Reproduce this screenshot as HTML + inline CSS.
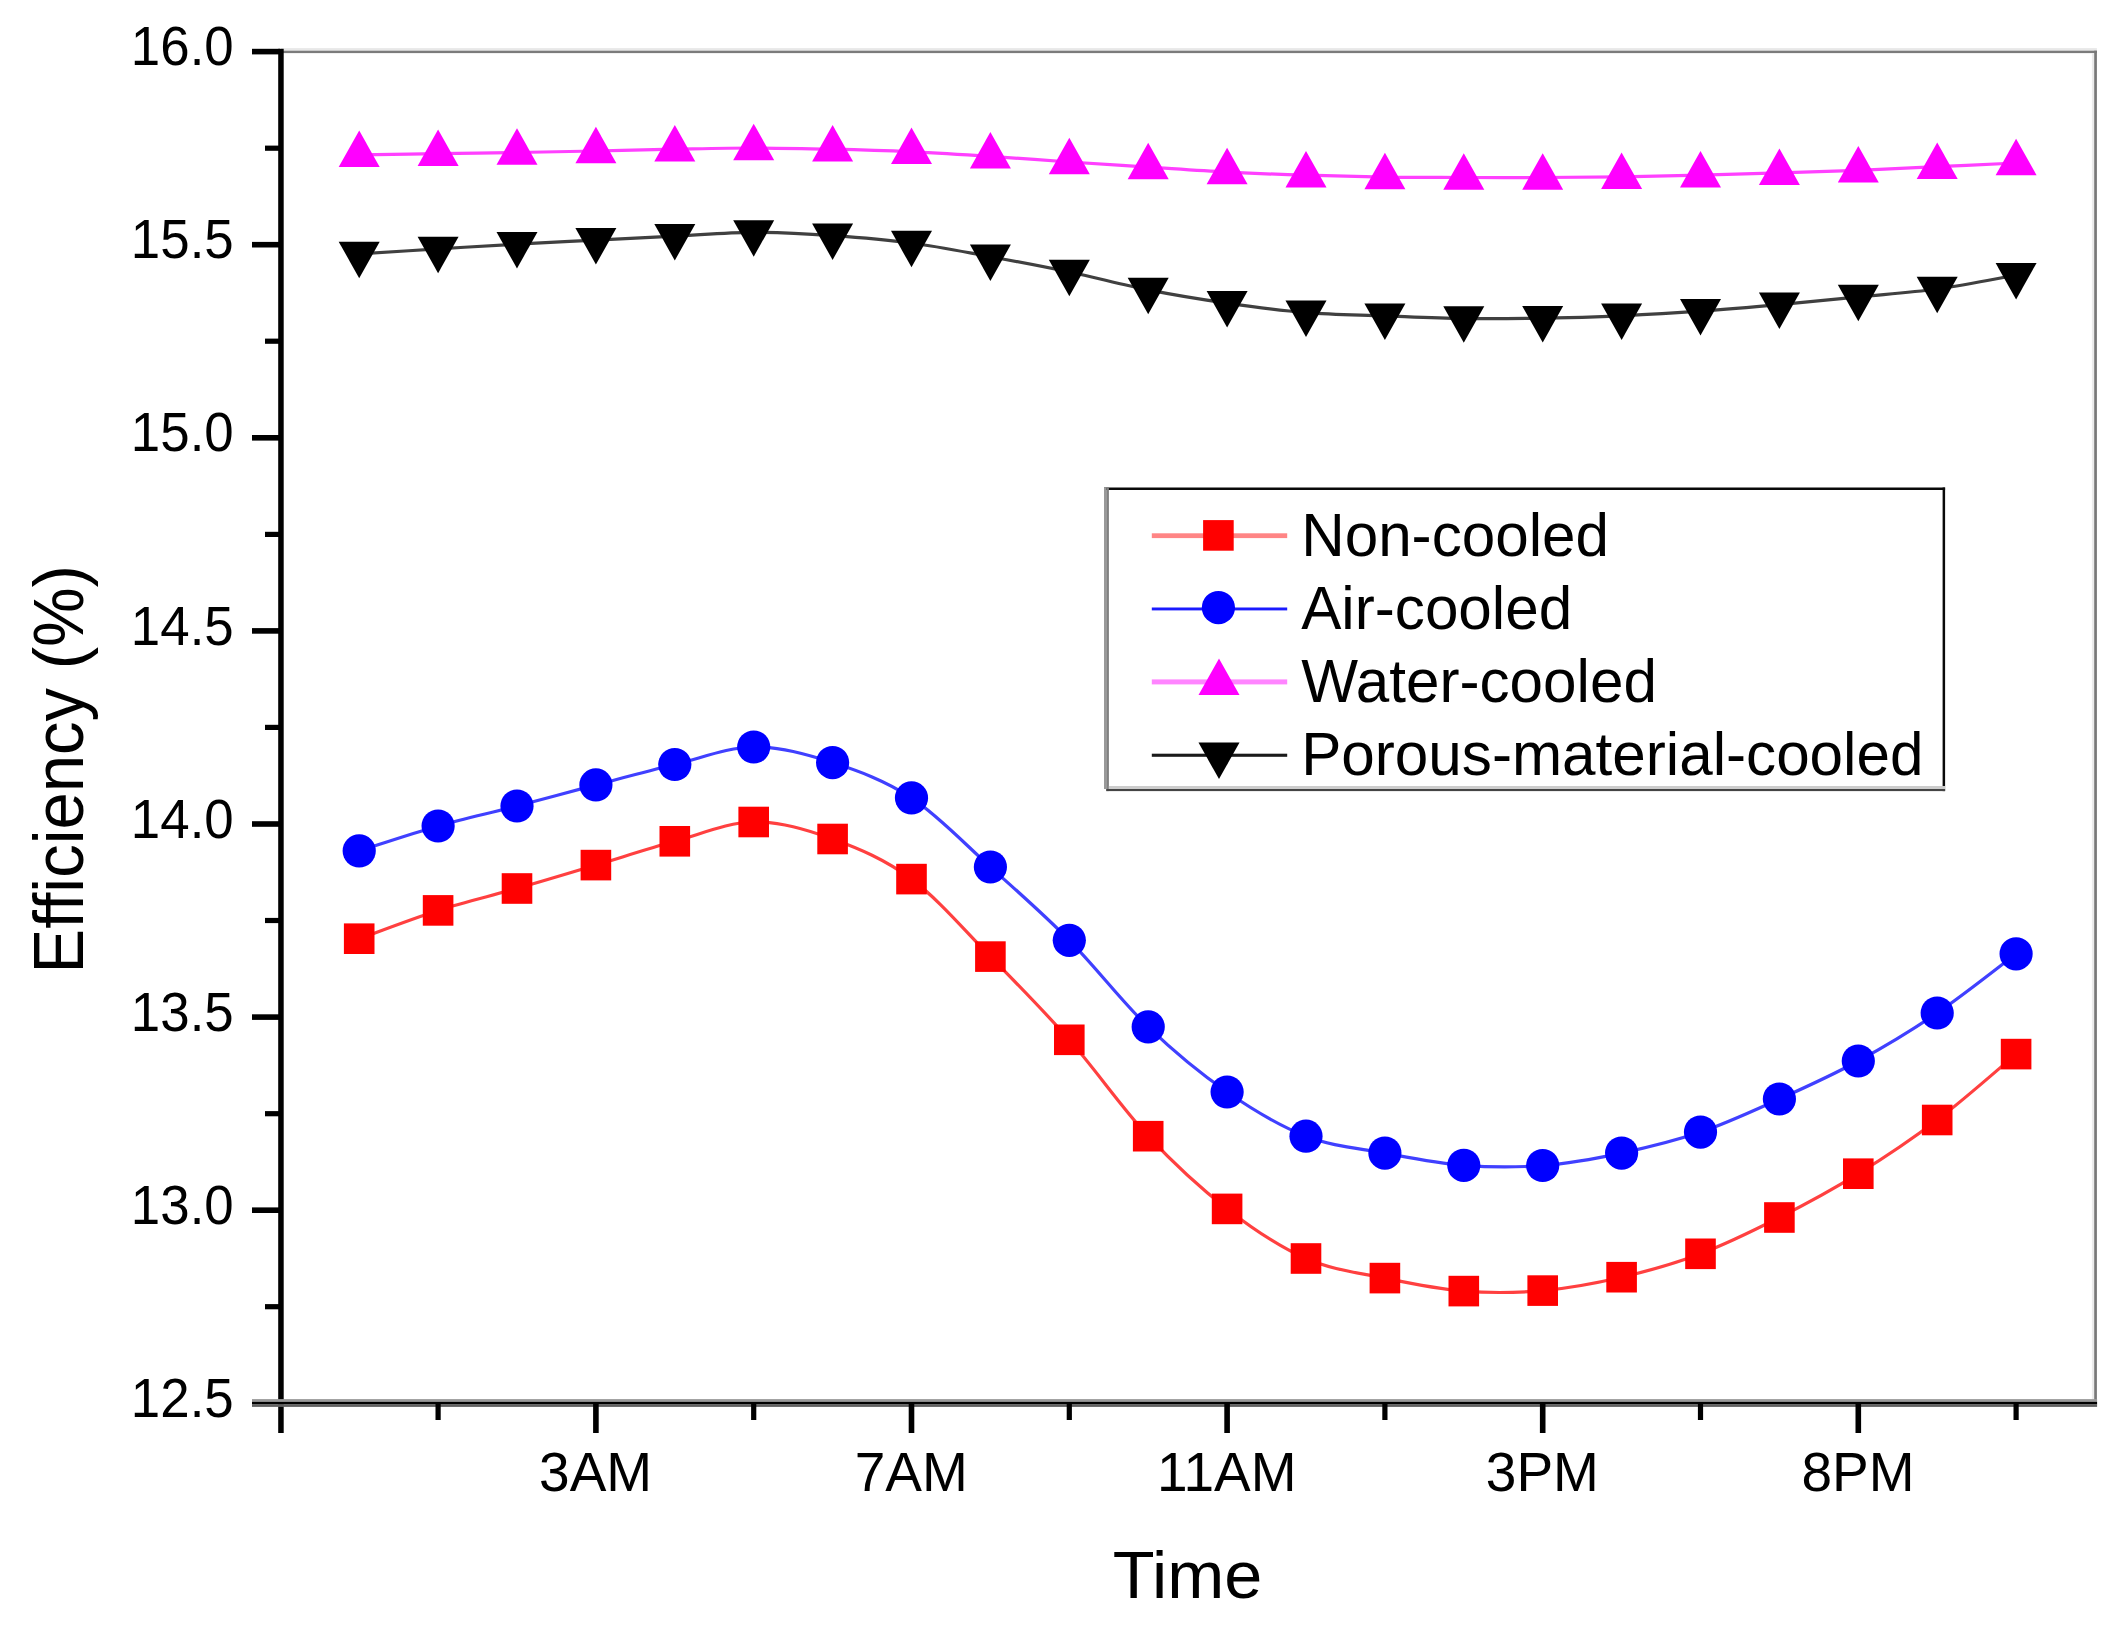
<!DOCTYPE html>
<html lang="en"><head><meta charset="utf-8"><title>Efficiency vs Time</title>
<style>html,body{margin:0;padding:0;background:#fff}body{width:2120px;height:1626px;overflow:hidden}svg{display:block}text{font-family:"Liberation Sans",Arial,sans-serif;fill:#000}.tk{font-size:56px}.lg{font-size:60.2px}.tt{font-size:67px}</style></head><body>
<svg width="2120" height="1626" viewBox="0 0 2120 1626">
<rect width="2120" height="1626" fill="#fff"/>
<rect x="281" y="48.1" width="1815.9" height="2.7" fill="#e8e8e8"/><rect x="281" y="50.7" width="1815.9" height="2.4" fill="#7b7b7b"/>
<rect x="2091.9" y="53.1" width="2.4" height="1350" fill="#ebebeb"/><rect x="2094.2" y="50.7" width="2.7" height="1353" fill="#787878"/>
<g fill="#000">
<rect x="278.2" y="48.8" width="5.5" height="1384.2"/>
<rect x="252" y="1399.1" width="1845.1" height="2.9" fill="#999"/><rect x="252" y="1401.9" width="1845.1" height="2.3"/><rect x="252" y="1404.1" width="1845.1" height="2.8" fill="#606060"/>
<rect x="252" y="48.8" width="28" height="5.6"/>
<rect x="265" y="145.6" width="15" height="5.2"/>
<rect x="252" y="241.9" width="28" height="5.6"/>
<rect x="265" y="338.6" width="15" height="5.2"/>
<rect x="252" y="435.0" width="28" height="5.6"/>
<rect x="265" y="531.8" width="15" height="5.2"/>
<rect x="252" y="628.1" width="28" height="5.6"/>
<rect x="265" y="724.8" width="15" height="5.2"/>
<rect x="252" y="821.2" width="28" height="5.6"/>
<rect x="265" y="917.9" width="15" height="5.2"/>
<rect x="252" y="1014.3" width="28" height="5.6"/>
<rect x="265" y="1111.1" width="15" height="5.2"/>
<rect x="252" y="1207.4" width="28" height="5.6"/>
<rect x="265" y="1304.1" width="15" height="5.2"/>
<rect x="435.5" y="1403" width="5.2" height="17"/>
<rect x="593.1" y="1403" width="5.6" height="30"/>
<rect x="751.1" y="1403" width="5.2" height="17"/>
<rect x="908.7" y="1403" width="5.6" height="30"/>
<rect x="1066.7" y="1403" width="5.2" height="17"/>
<rect x="1224.3" y="1403" width="5.6" height="30"/>
<rect x="1382.3" y="1403" width="5.2" height="17"/>
<rect x="1539.9" y="1403" width="5.6" height="30"/>
<rect x="1697.9" y="1403" width="5.2" height="17"/>
<rect x="1855.5" y="1403" width="5.6" height="30"/>
<rect x="2013.5" y="1403" width="5.2" height="17"/>
</g>
<text class="tk" transform="translate(233.7 65.2) scale(0.9436 1)" text-anchor="end">16.0</text>
<text class="tk" transform="translate(233.7 258.3) scale(0.9436 1)" text-anchor="end">15.5</text>
<text class="tk" transform="translate(233.7 451.4) scale(0.9436 1)" text-anchor="end">15.0</text>
<text class="tk" transform="translate(233.7 644.5) scale(0.9436 1)" text-anchor="end">14.5</text>
<text class="tk" transform="translate(233.7 837.6) scale(0.9436 1)" text-anchor="end">14.0</text>
<text class="tk" transform="translate(233.7 1030.7) scale(0.9436 1)" text-anchor="end">13.5</text>
<text class="tk" transform="translate(233.7 1223.8) scale(0.9436 1)" text-anchor="end">13.0</text>
<text class="tk" transform="translate(233.7 1416.9) scale(0.9436 1)" text-anchor="end">12.5</text>
<text class="tk" transform="translate(595.6 1491.0) scale(0.982 1)" text-anchor="middle">3AM</text>
<text class="tk" transform="translate(911.2 1491.0) scale(0.982 1)" text-anchor="middle">7AM</text>
<text class="tk" transform="translate(1226.8 1491.0) scale(0.982 1)" text-anchor="middle">11AM</text>
<text class="tk" transform="translate(1542.4 1491.0) scale(0.982 1)" text-anchor="middle">3PM</text>
<text class="tk" transform="translate(1858.0 1491.0) scale(0.982 1)" text-anchor="middle">8PM</text>
<text class="tt" transform="translate(1187.6 1598.3) scale(1.022 1)" text-anchor="middle">Time</text>
<text class="tt" style="font-size:69.5px" transform="translate(83.4 769.3) rotate(-90) scale(0.964 1)" text-anchor="middle">Efficiency (%)</text>
<path d="M359.2 938.7 C372.4 934.0 411.8 918.8 438.1 910.4 C464.4 902.0 490.7 896.0 517.0 888.5 C543.3 881.0 569.6 873.0 595.9 865.1 C622.2 857.2 648.5 848.5 674.8 841.3 C701.1 834.1 727.4 822.4 753.7 822.0 C780.0 821.6 806.3 829.5 832.6 839.0 C858.9 848.5 885.2 859.5 911.5 879.1 C937.8 898.7 964.1 929.8 990.4 956.6 C1016.7 983.4 1043.0 1009.9 1069.3 1039.8 C1095.6 1069.7 1121.9 1108.0 1148.2 1136.2 C1174.5 1164.4 1200.8 1188.5 1227.1 1208.9 C1253.4 1229.3 1279.7 1247.0 1306.0 1258.5 C1332.3 1270.0 1358.6 1272.7 1384.9 1278.1 C1411.2 1283.5 1437.5 1289.0 1463.8 1291.1 C1490.1 1293.2 1516.4 1292.9 1542.7 1290.6 C1569.0 1288.3 1595.3 1283.3 1621.6 1277.2 C1647.9 1271.1 1674.2 1263.8 1700.5 1253.8 C1726.8 1243.8 1753.1 1230.8 1779.4 1217.5 C1805.7 1204.2 1832.0 1190.0 1858.3 1173.7 C1884.6 1157.5 1910.9 1139.9 1937.2 1120.0 C1963.5 1100.1 2003.0 1065.1 2016.1 1054.1" fill="none" stroke="#ff4040" stroke-width="3.2"/>
<g fill="#ff0000"><rect x="343.9" y="923.4" width="30.6" height="30.6"/><rect x="422.8" y="895.1" width="30.6" height="30.6"/><rect x="501.7" y="873.2" width="30.6" height="30.6"/><rect x="580.6" y="849.8" width="30.6" height="30.6"/><rect x="659.5" y="826.0" width="30.6" height="30.6"/><rect x="738.4" y="806.7" width="30.6" height="30.6"/><rect x="817.3" y="823.7" width="30.6" height="30.6"/><rect x="896.2" y="863.8" width="30.6" height="30.6"/><rect x="975.1" y="941.3" width="30.6" height="30.6"/><rect x="1054.0" y="1024.5" width="30.6" height="30.6"/><rect x="1132.9" y="1120.9" width="30.6" height="30.6"/><rect x="1211.8" y="1193.6" width="30.6" height="30.6"/><rect x="1290.7" y="1243.2" width="30.6" height="30.6"/><rect x="1369.6" y="1262.8" width="30.6" height="30.6"/><rect x="1448.5" y="1275.8" width="30.6" height="30.6"/><rect x="1527.4" y="1275.3" width="30.6" height="30.6"/><rect x="1606.3" y="1261.9" width="30.6" height="30.6"/><rect x="1685.2" y="1238.5" width="30.6" height="30.6"/><rect x="1764.1" y="1202.2" width="30.6" height="30.6"/><rect x="1843.0" y="1158.4" width="30.6" height="30.6"/><rect x="1921.9" y="1104.7" width="30.6" height="30.6"/><rect x="2000.8" y="1038.8" width="30.6" height="30.6"/></g>
<path d="M359.2 850.9 C372.4 846.8 411.8 833.5 438.1 826.0 C464.4 818.5 490.7 812.9 517.0 806.0 C543.3 799.1 569.6 791.8 595.9 784.9 C622.2 778.0 648.5 770.8 674.8 764.5 C701.1 758.2 727.4 747.3 753.7 747.0 C780.0 746.7 806.3 754.1 832.6 762.6 C858.9 771.1 885.2 780.5 911.5 797.9 C937.8 815.3 964.1 843.3 990.4 867.0 C1016.7 890.7 1043.0 913.6 1069.3 940.3 C1095.6 966.9 1121.9 1001.6 1148.2 1026.9 C1174.5 1052.2 1200.8 1073.8 1227.1 1092.0 C1253.4 1110.2 1279.7 1126.0 1306.0 1136.2 C1332.3 1146.4 1358.6 1148.2 1384.9 1153.1 C1411.2 1157.9 1437.5 1163.2 1463.8 1165.3 C1490.1 1167.4 1516.4 1167.5 1542.7 1165.5 C1569.0 1163.5 1595.3 1158.7 1621.6 1153.1 C1647.9 1147.5 1674.2 1141.1 1700.5 1132.1 C1726.8 1123.1 1753.1 1110.8 1779.4 1099.0 C1805.7 1087.2 1832.0 1075.3 1858.3 1061.0 C1884.6 1046.7 1910.9 1030.9 1937.2 1013.0 C1963.5 995.1 2003.0 963.7 2016.1 953.8" fill="none" stroke="#4040ff" stroke-width="3.2"/>
<g fill="#0000ff"><circle cx="359.2" cy="850.9" r="16.6"/><circle cx="438.1" cy="826.0" r="16.6"/><circle cx="517.0" cy="806.0" r="16.6"/><circle cx="595.9" cy="784.9" r="16.6"/><circle cx="674.8" cy="764.5" r="16.6"/><circle cx="753.7" cy="747.0" r="16.6"/><circle cx="832.6" cy="762.6" r="16.6"/><circle cx="911.5" cy="797.9" r="16.6"/><circle cx="990.4" cy="867.0" r="16.6"/><circle cx="1069.3" cy="940.3" r="16.6"/><circle cx="1148.2" cy="1026.9" r="16.6"/><circle cx="1227.1" cy="1092.0" r="16.6"/><circle cx="1306.0" cy="1136.2" r="16.6"/><circle cx="1384.9" cy="1153.1" r="16.6"/><circle cx="1463.8" cy="1165.3" r="16.6"/><circle cx="1542.7" cy="1165.5" r="16.6"/><circle cx="1621.6" cy="1153.1" r="16.6"/><circle cx="1700.5" cy="1132.1" r="16.6"/><circle cx="1779.4" cy="1099.0" r="16.6"/><circle cx="1858.3" cy="1061.0" r="16.6"/><circle cx="1937.2" cy="1013.0" r="16.6"/><circle cx="2016.1" cy="953.8" r="16.6"/></g>
<path d="M359.2 154.8 C372.4 154.6 411.8 154.1 438.1 153.7 C464.4 153.3 490.7 152.9 517.0 152.5 C543.3 152.1 569.6 151.6 595.9 151.0 C622.2 150.4 648.5 149.7 674.8 149.2 C701.1 148.7 727.4 148.0 753.7 148.0 C780.0 148.0 806.3 148.6 832.6 149.2 C858.9 149.8 885.2 150.6 911.5 151.8 C937.8 153.0 964.1 154.6 990.4 156.3 C1016.7 158.0 1043.0 160.2 1069.3 162.0 C1095.6 163.8 1121.9 165.4 1148.2 167.1 C1174.5 168.8 1200.8 170.8 1227.1 172.1 C1253.4 173.4 1279.7 174.4 1306.0 175.2 C1332.3 176.0 1358.6 176.7 1384.9 177.1 C1411.2 177.5 1437.5 177.4 1463.8 177.5 C1490.1 177.6 1516.4 177.6 1542.7 177.5 C1569.0 177.4 1595.3 177.3 1621.6 176.9 C1647.9 176.5 1674.2 175.9 1700.5 175.2 C1726.8 174.5 1753.1 173.7 1779.4 172.9 C1805.7 172.1 1832.0 171.3 1858.3 170.3 C1884.6 169.3 1910.9 167.9 1937.2 166.7 C1963.5 165.5 2003.0 163.6 2016.1 163.0" fill="none" stroke="#ff40ff" stroke-width="3.2"/>
<g fill="#ff00ff"><polygon points="359.2,130.5 379.7,167.0 338.7,167.0"/><polygon points="438.1,129.4 458.6,165.9 417.6,165.9"/><polygon points="517.0,128.2 537.5,164.7 496.5,164.7"/><polygon points="595.9,126.7 616.4,163.2 575.4,163.2"/><polygon points="674.8,124.9 695.3,161.4 654.3,161.4"/><polygon points="753.7,123.7 774.2,160.2 733.2,160.2"/><polygon points="832.6,124.9 853.1,161.4 812.1,161.4"/><polygon points="911.5,127.5 932.0,164.0 891.0,164.0"/><polygon points="990.4,132.0 1010.9,168.5 969.9,168.5"/><polygon points="1069.3,137.7 1089.8,174.2 1048.8,174.2"/><polygon points="1148.2,142.8 1168.7,179.3 1127.7,179.3"/><polygon points="1227.1,147.8 1247.6,184.3 1206.6,184.3"/><polygon points="1306.0,150.9 1326.5,187.4 1285.5,187.4"/><polygon points="1384.9,152.8 1405.4,189.3 1364.4,189.3"/><polygon points="1463.8,153.2 1484.3,189.7 1443.3,189.7"/><polygon points="1542.7,153.2 1563.2,189.7 1522.2,189.7"/><polygon points="1621.6,152.6 1642.1,189.1 1601.1,189.1"/><polygon points="1700.5,150.9 1721.0,187.4 1680.0,187.4"/><polygon points="1779.4,148.6 1799.9,185.1 1758.9,185.1"/><polygon points="1858.3,146.0 1878.8,182.5 1837.8,182.5"/><polygon points="1937.2,142.4 1957.7,178.9 1916.7,178.9"/><polygon points="2016.1,138.7 2036.6,175.2 1995.6,175.2"/></g>
<path d="M359.2 253.9 C372.4 253.1 411.8 250.5 438.1 248.9 C464.4 247.3 490.7 245.6 517.0 244.1 C543.3 242.6 569.6 241.5 595.9 240.2 C622.2 238.9 648.5 237.5 674.8 236.2 C701.1 234.9 727.4 232.5 753.7 232.4 C780.0 232.3 806.3 233.8 832.6 235.6 C858.9 237.4 885.2 239.5 911.5 243.0 C937.8 246.5 964.1 251.9 990.4 256.7 C1016.7 261.5 1043.0 266.5 1069.3 272.0 C1095.6 277.5 1121.9 284.7 1148.2 289.9 C1174.5 295.1 1200.8 299.4 1227.1 303.2 C1253.4 307.0 1279.7 310.5 1306.0 312.6 C1332.3 314.7 1358.6 314.8 1384.9 315.8 C1411.2 316.8 1437.5 318.1 1463.8 318.5 C1490.1 318.9 1516.4 318.6 1542.7 318.2 C1569.0 317.8 1595.3 317.0 1621.6 315.8 C1647.9 314.6 1674.2 313.1 1700.5 311.2 C1726.8 309.3 1753.1 307.0 1779.4 304.6 C1805.7 302.2 1832.0 299.5 1858.3 296.9 C1884.6 294.3 1910.9 292.6 1937.2 289.0 C1963.5 285.4 2003.0 277.4 2016.1 275.1" fill="none" stroke="#404040" stroke-width="3.2"/>
<g fill="#000000"><polygon points="359.2,278.2 379.7,241.7 338.7,241.7"/><polygon points="438.1,273.2 458.6,236.7 417.6,236.7"/><polygon points="517.0,268.4 537.5,231.9 496.5,231.9"/><polygon points="595.9,264.5 616.4,228.0 575.4,228.0"/><polygon points="674.8,260.5 695.3,224.0 654.3,224.0"/><polygon points="753.7,256.7 774.2,220.2 733.2,220.2"/><polygon points="832.6,259.9 853.1,223.4 812.1,223.4"/><polygon points="911.5,267.3 932.0,230.8 891.0,230.8"/><polygon points="990.4,281.0 1010.9,244.5 969.9,244.5"/><polygon points="1069.3,296.3 1089.8,259.8 1048.8,259.8"/><polygon points="1148.2,314.2 1168.7,277.7 1127.7,277.7"/><polygon points="1227.1,327.5 1247.6,291.0 1206.6,291.0"/><polygon points="1306.0,336.9 1326.5,300.4 1285.5,300.4"/><polygon points="1384.9,340.1 1405.4,303.6 1364.4,303.6"/><polygon points="1463.8,342.8 1484.3,306.3 1443.3,306.3"/><polygon points="1542.7,342.5 1563.2,306.0 1522.2,306.0"/><polygon points="1621.6,340.1 1642.1,303.6 1601.1,303.6"/><polygon points="1700.5,335.5 1721.0,299.0 1680.0,299.0"/><polygon points="1779.4,328.9 1799.9,292.4 1758.9,292.4"/><polygon points="1858.3,321.2 1878.8,284.7 1837.8,284.7"/><polygon points="1937.2,313.3 1957.7,276.8 1916.7,276.8"/><polygon points="2016.1,299.4 2036.6,262.9 1995.6,262.9"/></g>
<rect x="1104" y="487.5" width="841.1" height="303.6" fill="#fff"/>
<rect x="1104" y="487.5" width="841.1" height="2.5" fill="#0a0a0a"/>
<rect x="1942.6" y="487.5" width="2.5" height="303.6" fill="#0a0a0a"/>
<rect x="1104" y="487.5" width="2.4" height="301.5" fill="#999"/><rect x="1106.3" y="487.5" width="2.6" height="303.6" fill="#808080"/>
<rect x="1108.9" y="786" width="836.2" height="3.1" fill="#ccc"/><rect x="1106.3" y="789" width="838.8" height="2.1" fill="#444"/>
<rect x="1151.8" y="533.3" width="135.4" height="4.8" fill="#ff8585"/>
<g fill="#ff0000"><rect x="1203.1" y="520.1" width="30.6" height="30.6"/></g>
<text class="lg" x="1301.2" y="556.2">Non-cooled</text>
<rect x="1151.8" y="607.5" width="135.4" height="2.9" fill="#1a1aff"/>
<g fill="#0000ff"><circle cx="1218.4" cy="607.6" r="16.6"/></g>
<text class="lg" x="1301.2" y="629.1">Air-cooled</text>
<rect x="1151.8" y="679.4" width="135.4" height="5.0" fill="#ff85ff"/>
<g fill="#ff00ff"><polygon points="1219.0,658.4 1239.5,694.9 1198.5,694.9"/></g>
<text class="lg" x="1301.2" y="702.4">Water-cooled</text>
<rect x="1151.8" y="753.7" width="135.4" height="3.1" fill="#1a1a1a"/>
<g fill="#000000"><polygon points="1219.0,779.1 1239.5,742.6 1198.5,742.6"/></g>
<text class="lg" x="1301.2" y="775.0">Porous-material-cooled</text>
</svg></body></html>
